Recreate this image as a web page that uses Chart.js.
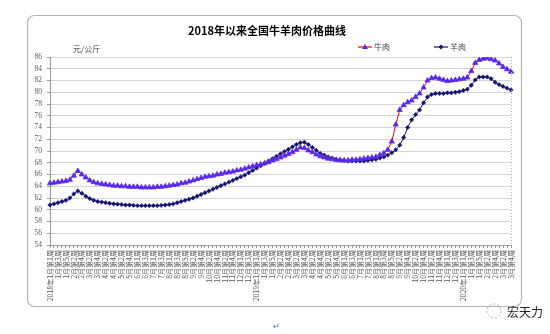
<!DOCTYPE html>
<html>
<head>
<meta charset="utf-8">
<script src="https://cdn.jsdelivr.net/npm/chart.js@4/dist/chart.umd.min.js"></script>
<style>
html,body{margin:0;padding:0;background:#fff;}
canvas{display:block;}
</style>
</head>
<body>
<canvas id="c" width="550" height="334"></canvas>
<script>
const chartTitle = "2018年以来全国牛羊肉价格曲线";
const unitLabel = "元/公斤";
const seriesNames = ["牛肉", "羊肉"];
const yTicks = { min: 54, max: 86, step: 2 };

const categories = [
"2018年1月第1周","1月第2周","1月第3周","1月第4周","1月第5周",
"2月第1周","2月第2周","2月第3周","2月第4周",
"3月第1周","3月第2周","3月第3周","3月第4周",
"4月第1周","4月第2周","4月第3周","4月第4周",
"5月第1周","5月第2周","5月第3周","5月第4周","5月第5周",
"6月第1周","6月第2周","6月第3周","6月第4周",
"7月第1周","7月第2周","7月第3周","7月第4周",
"8月第1周","8月第2周","8月第3周","8月第4周","8月第5周",
"9月第1周","9月第2周","9月第3周","9月第4周",
"10月第1周","10月第2周","10月第3周","10月第4周",
"11月第1周","11月第2周","11月第3周","11月第4周","11月第5周",
"12月第1周","12月第2周","12月第3周","12月第4周",
"2019年1月第1周","1月第2周","1月第3周","1月第4周","1月第5周",
"2月第1周","2月第2周","2月第3周","2月第4周",
"3月第1周","3月第2周","3月第3周","3月第4周",
"4月第1周","4月第2周","4月第3周","4月第4周",
"5月第1周","5月第2周","5月第3周","5月第4周","5月第5周",
"6月第1周","6月第2周","6月第3周","6月第4周",
"7月第1周","7月第2周","7月第3周","7月第4周",
"8月第1周","8月第2周","8月第3周","8月第4周","8月第5周",
"9月第1周","9月第2周","9月第3周","9月第4周",
"10月第1周","10月第2周","10月第3周","10月第4周",
"11月第1周","11月第2周","11月第3周","11月第4周","11月第5周",
"12月第1周","12月第2周","12月第3周","12月第4周",
"2020年1月第1周","1月第2周","1月第3周","1月第4周","1月第5周",
"2月第1周","2月第2周","2月第3周","2月第4周",
"3月第1周","3月第2周","3月第3周","3月第4周"
];

const beefPrice = [
64.5,64.6,64.7,64.8,64.9,65.1,65.8,66.6,66.0,65.5,
65.0,64.7,64.5,64.4,64.3,64.2,64.1,64.1,64.0,64.0,
63.9,63.9,63.9,63.8,63.8,63.8,63.8,63.9,63.9,64.0,
64.1,64.2,64.3,64.5,64.6,64.8,65.0,65.2,65.4,65.6,
65.7,65.8,66.0,66.1,66.3,66.4,66.5,66.7,66.8,67.0,
67.2,67.4,67.6,67.7,67.9,68.1,68.4,68.6,68.9,69.2,
69.5,69.8,70.2,70.6,70.5,70.1,69.8,69.4,69.1,68.9,
68.7,68.6,68.5,68.4,68.4,68.4,68.5,68.5,68.6,68.7,
68.8,68.9,69.0,69.3,69.6,70.2,71.6,74.5,77.0,77.8,
78.3,78.6,79.2,79.8,80.8,82.0,82.4,82.5,82.3,82.1,
81.9,82.0,82.1,82.2,82.3,82.5,83.6,85.0,85.5,85.7,
85.8,85.6,85.4,84.9,84.3,83.9,83.5
];

const muttonPrice = [
60.8,61.0,61.2,61.4,61.6,62.0,62.7,63.2,62.8,62.3,
61.9,61.6,61.4,61.3,61.2,61.1,61.0,60.95,60.9,60.8,
60.8,60.75,60.7,60.7,60.7,60.7,60.7,60.7,60.75,60.8,
60.9,61.0,61.2,61.4,61.6,61.8,62.0,62.3,62.6,62.9,
63.2,63.5,63.8,64.1,64.4,64.7,65.0,65.3,65.6,65.9,
66.3,66.7,67.1,67.5,67.9,68.3,68.7,69.1,69.5,69.9,
70.3,70.7,71.1,71.4,71.5,71.1,70.6,70.1,69.6,69.3,
69.0,68.8,68.6,68.5,68.4,68.3,68.3,68.3,68.3,68.3,
68.4,68.5,68.6,68.8,69.0,69.3,69.7,70.2,71.0,72.3,
74.0,75.3,76.2,77.0,78.2,79.2,79.6,79.8,79.8,79.8,
79.9,79.9,80.0,80.1,80.3,80.5,81.2,82.1,82.6,82.6,
82.6,82.3,81.7,81.3,81.0,80.7,80.4
];

const beefLine = '#ff0000';
const beefMarker = '#5a28ee';
const muttonColor = '#14146e';
const cjk = '"Noto Sans CJK SC", "Noto Sans", sans-serif';
const serif = '"Liberation Serif", "Noto Sans CJK SC", serif';

function roundRect(ctx, x, y, w, h, r) {
  ctx.beginPath();
  ctx.moveTo(x + r, y);
  ctx.lineTo(x + w - r, y);
  ctx.arcTo(x + w, y, x + w, y + r, r);
  ctx.lineTo(x + w, y + h - r);
  ctx.arcTo(x + w, y + h, x + w - r, y + h, r);
  ctx.lineTo(x + r, y + h);
  ctx.arcTo(x, y + h, x, y + h - r, r);
  ctx.lineTo(x, y + r);
  ctx.arcTo(x, y, x + r, y, r);
  ctx.closePath();
}

const decor = {
  id: 'decor',
  beforeDraw(chart) {
    const ctx = chart.ctx;
    ctx.save();
    ctx.fillStyle = '#ffffff';
    ctx.fillRect(0, 0, chart.width, chart.height);
    ctx.strokeStyle = '#b4b4b4';
    ctx.lineWidth = 1.2;
    roundRect(ctx, 27.5, 15.5, 494, 291, 7);
    ctx.stroke();
    ctx.restore();
  },
  afterDraw(chart) {
    const ctx = chart.ctx;
    const a = chart.chartArea;
    ctx.save();
    ctx.strokeStyle = '#b0b0b0';
    ctx.lineWidth = 1;
    ctx.setLineDash([1, 2]);
    ctx.beginPath();
    ctx.moveTo(a.right + 0.5, a.top);
    ctx.lineTo(a.right + 0.5, a.bottom);
    ctx.stroke();
    ctx.setLineDash([]);
    ctx.fillStyle = '#000';
    ctx.font = 'bold 11px ' + cjk;
    ctx.textAlign = 'center';
    ctx.textBaseline = 'middle';
    ctx.fillText(chartTitle, 267, 31);
    ctx.font = '8px ' + cjk;
    ctx.fillStyle = '#404040';
    ctx.textAlign = 'left';
    ctx.fillText(unitLabel, 73, 49);
    const ly = 47;
    ctx.strokeStyle = beefLine;
    ctx.lineWidth = 1.2;
    ctx.beginPath(); ctx.moveTo(358, ly); ctx.lineTo(372, ly); ctx.stroke();
    ctx.fillStyle = beefMarker;
    ctx.beginPath(); ctx.moveTo(365, ly - 3); ctx.lineTo(368, ly + 2); ctx.lineTo(362, ly + 2); ctx.closePath(); ctx.fill();
    ctx.fillStyle = '#404040';
    ctx.font = '8px ' + cjk;
    ctx.fillText(seriesNames[0], 374, ly);
    ctx.strokeStyle = muttonColor;
    ctx.beginPath(); ctx.moveTo(434, ly); ctx.lineTo(448, ly); ctx.stroke();
    ctx.fillStyle = muttonColor;
    ctx.beginPath(); ctx.moveTo(441, ly - 2.5); ctx.lineTo(443.5, ly); ctx.lineTo(441, ly + 2.5); ctx.lineTo(438.5, ly); ctx.closePath(); ctx.fill();
    ctx.fillStyle = '#404040';
    ctx.fillText(seriesNames[1], 450, ly);
    ctx.strokeStyle = '#9a9a9a';
    ctx.lineWidth = 0.8;
    ctx.setLineDash([2, 2]);
    ctx.beginPath(); ctx.arc(494, 311, 7, 0, Math.PI * 2); ctx.stroke();
    ctx.setLineDash([]);
    ctx.fillStyle = '#222';
    ctx.font = '12px ' + cjk;
    ctx.fillText('宏天力', 507, 312);
    ctx.fillStyle = '#3a6fd8';
    ctx.font = '8px ' + cjk;
    ctx.fillText('↵', 273, 326);
    ctx.restore();
  }
};

new Chart(document.getElementById('c'), {
  type: 'line',
  data: {
    labels: categories,
    datasets: [
      {
        label: seriesNames[0], data: beefPrice,
        borderColor: beefLine, borderWidth: 1,
        pointStyle: 'triangle', pointRadius: 3,
        pointBackgroundColor: beefMarker, pointBorderColor: beefMarker, pointBorderWidth: 0.8,
        tension: 0
      },
      {
        label: seriesNames[1], data: muttonPrice,
        borderColor: muttonColor, borderWidth: 1,
        pointStyle: 'rectRot', pointRadius: 2.2,
        pointBackgroundColor: muttonColor, pointBorderColor: muttonColor, pointBorderWidth: 0.5,
        tension: 0
      }
    ]
  },
  options: {
    responsive: false,
    animation: false,
    events: [],
    layout: { padding: { top: 57, right: 39, left: 0, bottom: 0 } },
    plugins: { legend: { display: false }, title: { display: false }, tooltip: { enabled: false } },
    scales: {
      x: {
        offset: false,
        grid: { drawOnChartArea: false, drawTicks: true, tickLength: 3, color: '#9a9a9a' },
        border: { color: '#9a9a9a' },
        ticks: {
          autoSkip: false, maxRotation: 90, minRotation: 90, padding: 2,
          color: '#595959', font: { size: 7, family: cjk },
          callback: function (v, i) { return i % 2 === 0 ? this.getLabelForValue(v) : ''; }
        },
        afterFit: (s) => { s.height = 89; }
      },
      y: {
        min: yTicks.min, max: yTicks.max,
        grid: { color: '#d4d4d4', tickLength: 3, tickColor: '#9a9a9a' },
        border: { color: '#9a9a9a' },
        ticks: { stepSize: yTicks.step, autoSkip: false, padding: 5, color: '#595959', font: { size: 7.5, family: serif } },
        afterFit: (s) => { s.width = 50; }
      }
    }
  },
  plugins: [decor]
});
</script>
</body>
</html>
